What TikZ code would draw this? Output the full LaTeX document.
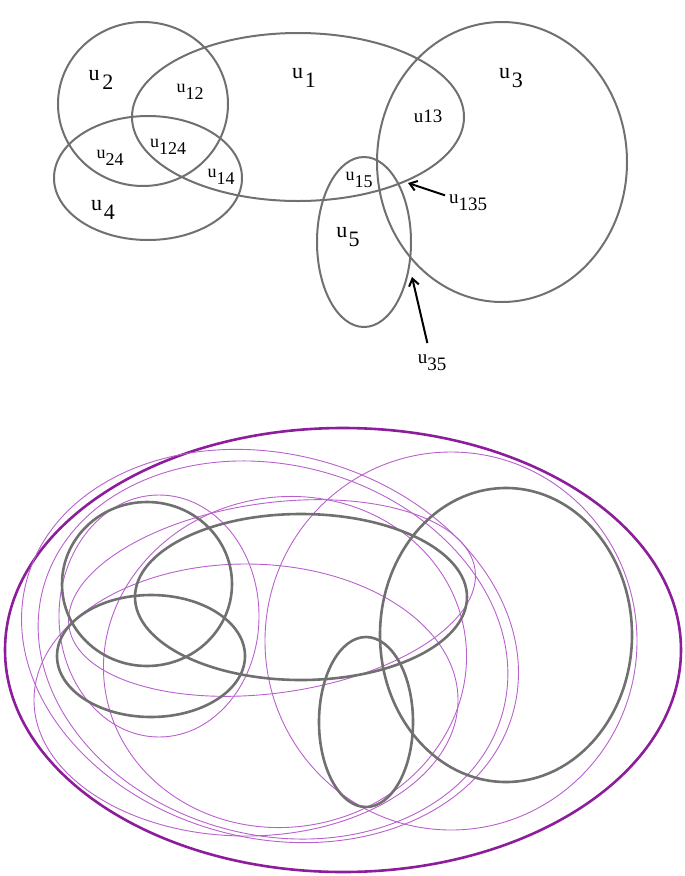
\documentclass[tikz,border=0pt]{standalone}
\usepackage{fontspec}
\setmainfont{Liberation Serif}
\usetikzlibrary{arrows.meta}
\definecolor{setgray}{RGB}{112,112,112}
\definecolor{outerpurple}{RGB}{140,30,155}
\definecolor{thinpurple}{RGB}{184,96,204}
\newcommand{\usub}[2][0em]{u\kern#1\raisebox{-0.38em}{#2}}
\tikzset{
  topset/.style={draw=setgray, line width=2pt},
  botset/.style={draw=setgray, line width=2.6pt},
  outerset/.style={draw=outerpurple, line width=2.6pt},
  thinset/.style={draw=thinpurple, line width=0.9pt},
  biglab/.style={font=\fontsize{22}{24}\selectfont, inner sep=0pt},
  smalllab/.style={font=\fontsize{18}{20}\selectfont, inner sep=0pt},
  midlab/.style={font=\fontsize{19}{21}\selectfont, inner sep=0pt},
  pointer/.style={draw=black, line width=2pt, -{Straight Barb[length=7pt,width=10pt,line width=2pt]}}
}
\begin{document}
\begin{tikzpicture}[x=1pt,y=-1pt]
\useasboundingbox (0,0) rectangle (685,876);
% ---------- upper diagram ----------
\draw[topset] (143,104) ellipse [x radius=85, y radius=82];
\draw[topset] (148,178) ellipse [x radius=94, y radius=62];
\draw[topset] (298,117) ellipse [x radius=166, y radius=84];
\draw[topset] (502,162) ellipse [x radius=125, y radius=140];
\draw[topset] (364,242) ellipse [x radius=47, y radius=85];

\node[biglab] (l2) at (101,80) {\usub[0.12em]{2}};
\node[smalllab] (l12) at (190,92) {\usub{12}};
\node[smalllab] (l124) at (168,147) {\usub{124}};
\node[smalllab] (l24) at (110,158) {\usub{24}};
\node[smalllab] (l14) at (221,177) {\usub{14}};
\node[biglab] (l4) at (103,210) {\usub[0.08em]{4}};
\node[biglab] (l1) at (304,78) {\usub[0.08em]{1}};
\node[biglab] (l3) at (511,78) {\usub[0.08em]{3}};
\node[midlab] (l13) at (428,116) {u13};
\node[smalllab] (l15) at (359,180) {\usub{15}};
\node[biglab] (l5) at (348,237) {\usub[0.05em]{5}};
\node[midlab] (l135) at (468,203) {\usub{135}};
\node[midlab] (l35) at (432,363) {\usub{35}};

\coordinate (t135) at (408,183);
\coordinate (t35) at (412,277);
\draw[pointer, shorten <=4pt] (l135) -- (t135);
\draw[pointer, shorten <=12pt] (l35) -- (t35);

% ---------- lower diagram ----------
\draw[outerset] (343,650) ellipse [x radius=338, y radius=222];
\draw[thinset, rotate around={-15:(270,646)}] (270,646) ellipse [x radius=252, y radius=192];
\draw[thinset, rotate around={-15:(273,650)}] (273,650) ellipse [x radius=238, y radius=185];
\draw[thinset] (159,616) ellipse [x radius=100, y radius=121];
\draw[thinset, rotate around={8:(272,598)}] (272,598) ellipse [x radius=205, y radius=95];
\draw[thinset, rotate around={10:(285,662)}] (285,662) ellipse [x radius=182, y radius=165];
\draw[thinset] (246,700) ellipse [x radius=212, y radius=136];
\draw[thinset] (451,641) ellipse [x radius=186, y radius=189];

\draw[botset] (147,584) ellipse [x radius=85, y radius=82];
\draw[botset] (151,656) ellipse [x radius=94, y radius=61];
\draw[botset] (301,597) ellipse [x radius=166, y radius=83];
\draw[botset] (506,635) ellipse [x radius=126, y radius=147];
\draw[botset] (366,722) ellipse [x radius=47, y radius=85];
\end{tikzpicture}
\end{document}
